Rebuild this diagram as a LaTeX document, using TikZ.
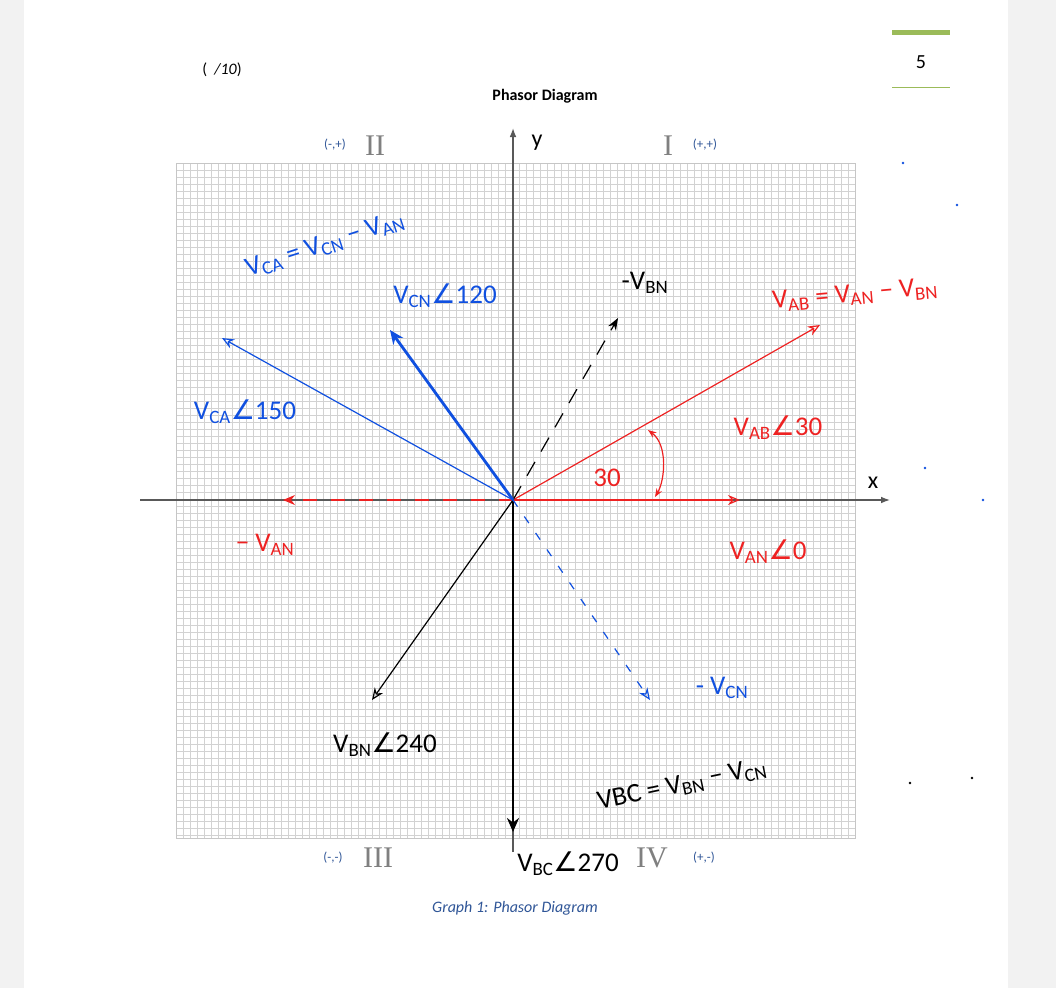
\documentclass[tikz,border=0pt]{standalone}
\usepackage{fontspec}
\setmainfont{Carlito}
\newfontfamily\dvs{DejaVu Sans}
\newfontfamily\lser{Liberation Serif}
\newcommand{\ang}{{\dvs ∠}}
\newcommand{\ssb}[1]{\textsubscript{#1}}
\usetikzlibrary{arrows.meta}
\definecolor{rd}{HTML}{EE2222}
\definecolor{bl}{HTML}{1050E0}
\definecolor{gr}{HTML}{9BBB59}
\definecolor{cap}{HTML}{2F5597}
\tikzset{
 lab/.style={font=\fontsize{27}{29}\selectfont,inner sep=1pt},
 vec/.style={line width=1.2pt,-{Stealth[open,length=12pt,width=10pt]}},
 quad/.style={text=gray,font=\fontsize{30}{30}\selectfont\lser},
 sgn/.style={text=cap,font=\fontsize{13}{14}\selectfont},
 txt/.style={font=\fontsize{16}{18}\selectfont},
}
\begin{document}
\begin{tikzpicture}[x=1pt,y=-1pt]
\fill[gray!10] (0,0) rectangle (1056,988);
\fill[white] (24,0) rectangle (1008,988);
\useasboundingbox (0,0) rectangle (1056,988);
% header
\node[txt] (score) at (222,70) {(\ \ \textit{/10})};
\node[txt] (title) at (545,96) {\textbf{Phasor Diagram}};
\fill[gr] (892,30) rectangle (950,35);
\draw[gr] (892,87) -- (950,87);
\node[font=\fontsize{20}{22}\selectfont] (pg) at (921,62) {5};
% grid
\foreach \i in {0,...,97} {
  \draw[gray!35,line width=0.6pt] ({176+7*\i},163) -- ({176+7*\i},838);
}
\foreach \j in {0,...,96} {
  \draw[gray!35,line width=0.6pt] (176,{163+7*\j}) -- (855,{163+7*\j});
}
\draw[gray!45,line width=0.9pt] (176,163) rectangle (855,838);
\coordinate (O) at (513,500);
\draw[gray!70!black,line width=1.5pt,-{Latex[length=9pt]}] (140,500) -- (890,500);
\draw[gray!70!black,line width=1.5pt,-{Latex[length=9pt]}] (513,852) -- (513,128);
\node[font=\fontsize{24}{26}\selectfont] (xl) at (873,483) {x};
\node[font=\fontsize{24}{26}\selectfont] (yl) at (537,143) {y};
\node[quad] (q2) at (375,146) {II};
\node[quad] (q1) at (668,146) {I};
\node[quad] (q3) at (378,858) {III};
\node[quad] (q4) at (652,858) {IV};
\node[sgn] (s2) at (335,145) {(-,+)};
\node[sgn] (s1) at (705,145) {(+,+)};
\node[sgn] (s3) at (333,858) {(-,-)};
\node[sgn] (s4) at (704,858) {(+,-)};
% vectors
\coordinate (VAN) at (740,500);
\coordinate (mVAN) at (283,500);
\coordinate (VAB) at (820,325);
\coordinate (mVBN) at (618,318);
\coordinate (VBN) at (372,700);
\coordinate (VBC) at (513,832);
\coordinate (VCN) at (390,330);
\coordinate (VCA) at (222,338);
\coordinate (mVCN) at (650,700);
\draw[vec,rd] (O) -- (VAN);
\draw[vec,rd,dash pattern=on 14pt off 14pt,-{Stealth[length=12pt,width=10pt]}] (O) -- (mVAN);
\draw[vec,rd] (O) -- (VAB);
\draw[vec,black,dash pattern=on 16pt off 12pt,-{Stealth[length=12pt,width=9pt]}] (O) -- (mVBN);
\draw[vec,black] (O) -- (VBN);
\draw[line width=2.4pt,black,-{Stealth[open,length=14pt,width=12pt]}] (O) -- (VBC);
\draw[line width=2.8pt,bl,-{Stealth[open,length=14pt,width=12pt]}] (O) -- (VCN);
\draw[vec,bl] (O) -- (VCA);
\draw[vec,bl,dash pattern=on 8pt off 12pt] (O) -- (mVCN);
% angle
\coordinate (a1) at (648,430);
\coordinate (a2) at (655,497);
\draw[rd,line width=1.2pt,{Stealth[open]}-{Stealth[open]}] (a1) .. controls (668,445) and (665,480) .. (a2);
\node[rd,lab] (l30) at (607,478) {30};
% labels
\node[bl,lab,rotate=18] (lca) at (325,245) {V\ssb{CA} = V\ssb{CN} − V\ssb{AN}};
\node[bl,lab] (lcn) at (445,296) {V\ssb{CN}\ang120};
\node[bl,lab] (lca2) at (245,412) {V\ssb{CA}\ang150};
\node[lab] (lmbn) at (645,283) {-V\ssb{BN}};
\node[rd,lab,rotate=5] (lab1) at (855,295) {V\ssb{AB} = V\ssb{AN} − V\ssb{BN}};
\node[rd,lab] (lab2) at (778,428) {V\ssb{AB}\ang30};
\node[rd,lab] (lman) at (265,545) {− V\ssb{AN}};
\node[rd,lab] (lan) at (768,552) {V\ssb{AN}\ang0};
\node[bl,lab] (lmcn) at (722,688) {- V\ssb{CN}};
\node[lab] (lbn) at (385,745) {V\ssb{BN}\ang240};
\node[lab,rotate=12] (lbc) at (682,785) {VBC = V\ssb{BN} − V\ssb{CN}};
\node[lab] (lbc2) at (568,864) {V\ssb{BC}\ang270};
% caption
\node[text=cap,txt] (capt) at (515,908) {\textit{Graph 1: Phasor Diagram}};
% stray dots
\foreach \p in {(903,163),(957,205),(925,468),(983,500)} \fill[bl] \p circle (1.3);
\foreach \p in {(910,783),(972,778)} \fill[black] \p circle (1.3);
\end{tikzpicture}
\end{document}
